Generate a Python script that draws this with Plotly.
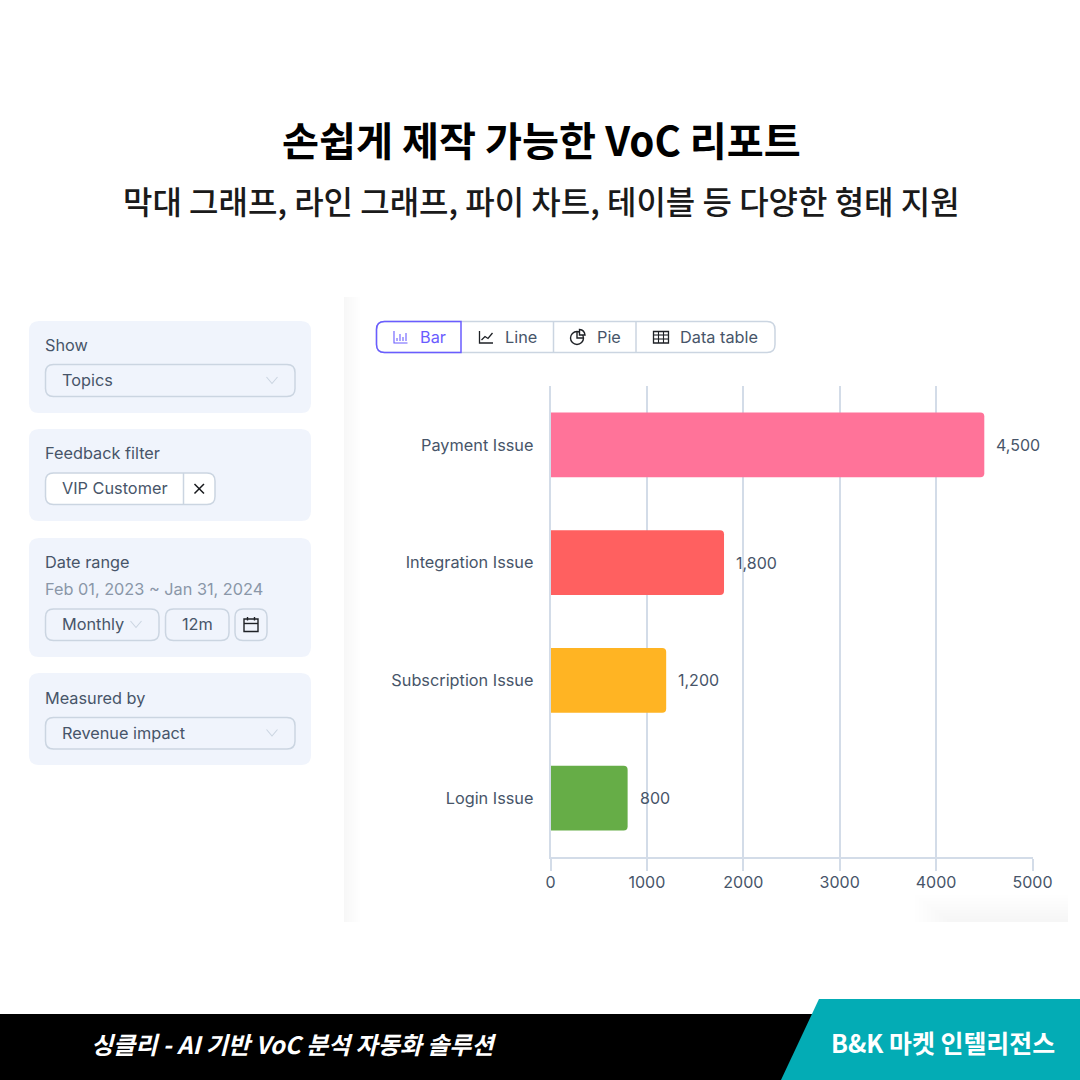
import plotly.graph_objects as go

# 차트 데이터
categorias = ["Payment Issue", "Integration Issue", "Subscription Issue", "Login Issue"]
valores = [4500, 1800, 1200, 800]
rotulos = ["4,500", "1,800", "1,200", "800"]
cores = ["#ff7399", "#ff6060", "#ffb423", "#66ad47"]
ticks_x = [0, 1000, 2000, 3000, 4000, 5000]

W = 1080
H = 1080
CJK = "Noto Sans CJK KR"
UI = "Inter"
TAM = 16.3
TEXTO = "#475569"
BORDA = "#cbd5e1"
PAINEL = "#f0f4fc"
GRADE = "#d3dce8"
ROXO = "#6a5cff"
ESCURO = "#1e2126"

shapes = []
annotations = []


def fx(x):
    return x / W


def fy(y):
    return 1 - y / H


def pt(x, y):
    return f"{fx(x):.5f},{fy(y):.5f}"


def retangulo(x0, y0, x1, y1, fill="rgba(0,0,0,0)", line=None, width=0):
    shapes.append(dict(type="rect", xref="paper", yref="paper", layer="below",
                       x0=fx(x0), x1=fx(x1), y0=fy(y0), y1=fy(y1),
                       fillcolor=fill, line=dict(color=line or "rgba(0,0,0,0)", width=width)))


def caminho(path, line=None, width=0, fill="rgba(0,0,0,0)"):
    shapes.append(dict(type="path", xref="paper", yref="paper", layer="below", path=path,
                       fillcolor=fill, line=dict(color=line or "rgba(0,0,0,0)", width=width)))


def arredondado(x0, y0, x1, y1, r=8, fill="rgba(0,0,0,0)", line=None, width=0):
    path = (f"M{pt(x0 + r, y0)} L{pt(x1 - r, y0)} Q{pt(x1, y0)} {pt(x1, y0 + r)} "
            f"L{pt(x1, y1 - r)} Q{pt(x1, y1)} {pt(x1 - r, y1)} "
            f"L{pt(x0 + r, y1)} Q{pt(x0, y1)} {pt(x0, y1 - r)} "
            f"L{pt(x0, y0 + r)} Q{pt(x0, y0)} {pt(x0 + r, y0)} Z")
    caminho(path, line, width, fill)


def segmentos(pontos, cor, width=1.4):
    path = "M" + " L".join(pt(x, y) for x, y in pontos)
    caminho(path, cor, width)


def texto(x, y, s, size=TAM, cor=TEXTO, anchor="left", family=UI, weight=400):
    # a anotacao tem uma folga interna de ~1.5px
    if anchor == "left":
        x = x - 1.5
    annotations.append(dict(x=fx(x), y=fy(y), xref="paper", yref="paper", text=s,
                            showarrow=False, xanchor=anchor, yanchor="middle",
                            borderpad=0, align=anchor,
                            font=dict(size=size, color=cor, family=family, weight=weight)))


def seta(x, y, cor=BORDA):
    segmentos([(x - 5.5, y - 3.5), (x, y + 3), (x + 5.5, y - 3.5)], cor, 1.1)


# titulo
texto(541.5, 138, "손쉽게 제작 가능한 VoC 리포트", 40.2, "#000000", "center", CJK, 700)
texto(541, 200, "막대 그래프, 라인 그래프, 파이 차트, 테이블 등 다양한 형태 지원", 32, "#1a1a1a", "center", CJK, 500)

# sombra do cartao do grafico
for i in range(16):
    retangulo(344 + i, 297, 345 + i, 922, fill=f"rgba(120,120,120,{0.06 * (1 - i / 16):.3f})")
for i in range(10):
    retangulo(915 + i * 4, 895 + i * 3, 1068, 922, fill="rgba(120,120,120,0.006)")

# paineis da esquerda
for y0, y1 in [(321, 413), (429, 521), (538, 657), (673, 765)]:
    arredondado(29, y0, 311, y1, 10, fill=PAINEL)

texto(45.5, 345, "Show")
arredondado(45.5, 364.5, 295, 396.5, 8, line=BORDA, width=1.5)
texto(62, 380.5, "Topics")
seta(272, 380.5)

texto(45.5, 453, "Feedback filter")
arredondado(45.5, 473, 215, 504.5, 8, fill="#ffffff", line=BORDA, width=1.5)
segmentos([(183.5, 473), (183.5, 504.5)], BORDA, 1.5)
texto(62, 488, "VIP Customer")
segmentos([(194.5, 484), (204, 493.5)], "#17191c", 1.5)
segmentos([(204, 484), (194.5, 493.5)], "#17191c", 1.5)

texto(45.5, 562, "Date range")
texto(45.5, 589, "Feb 01, 2023 ~ Jan 31, 2024", cor="#8a97a8")
arredondado(45.5, 609, 159, 640.5, 8, line=BORDA, width=1.5)
texto(62, 624, "Monthly")
seta(136, 624.5)
arredondado(165.5, 609, 229, 640.5, 8, line=BORDA, width=1.5)
texto(197, 624, "12m", anchor="center")
arredondado(235, 609, 267, 640.5, 8, line=BORDA, width=1.5)
retangulo(244, 619, 258, 631.5, line=ESCURO, width=1.4)
segmentos([(244, 623.5), (258, 623.5)], ESCURO, 1.4)
segmentos([(247.5, 617), (247.5, 620.5)], ESCURO, 1.4)
segmentos([(254.5, 617), (254.5, 620.5)], ESCURO, 1.4)

texto(45.5, 698, "Measured by")
arredondado(45.5, 717.5, 295, 749, 8, line=BORDA, width=1.5)
texto(62, 733, "Revenue impact")
seta(272, 733)

# abas
arredondado(376.5, 321.5, 775, 352.5, 8, line=BORDA, width=1.5)
segmentos([(553.5, 321.5), (553.5, 352.5)], BORDA, 1.5)
segmentos([(636, 321.5), (636, 352.5)], BORDA, 1.5)
caminho(f"M{pt(461, 321.5)} L{pt(384.5, 321.5)} Q{pt(376.5, 321.5)} {pt(376.5, 329.5)} "
        f"L{pt(376.5, 344.5)} Q{pt(376.5, 352.5)} {pt(384.5, 352.5)} L{pt(461, 352.5)} Z", ROXO, 1.5)
texto(420, 337, "Bar", cor=ROXO)
texto(505.5, 337, "Line")
texto(597, 337, "Pie")
texto(680.5, 337, "Data table")

# icone barras
segmentos([(394, 331), (394, 343), (407.5, 343)], ROXO, 1.1)
for xb, yb in [(397, 338), (400, 334), (403, 337), (406, 333)]:
    segmentos([(xb, yb), (xb, 341)], ROXO, 1.1)
# icone linha
segmentos([(479.5, 331), (479.5, 343), (493, 343)], ESCURO, 1.3)
segmentos([(481.5, 340), (485, 336.5), (488, 338.5), (492.5, 333)], ESCURO, 1.3)
# icone pizza
shapes.append(dict(type="circle", xref="paper", yref="paper", layer="below",
                   x0=fx(570.5), x1=fx(583.5), y0=fy(331.5), y1=fy(344.5),
                   line=dict(color=ESCURO, width=1.4), fillcolor="rgba(0,0,0,0)"))
caminho(f"M{pt(577, 331.5)} L{pt(577, 338)} L{pt(583.5, 338)}", ESCURO, 1.4)
caminho(f"M{pt(579.5, 329.5)} Q{pt(584.5, 330)} {pt(585, 335)} L{pt(579.5, 335)} Z", ESCURO, 1.4, "#ffffff")
# icone tabela
retangulo(653.5, 331.5, 668.5, 343, line=ESCURO, width=1.3)
segmentos([(653.5, 335), (668.5, 335)], ESCURO, 1.1)
segmentos([(653.5, 339), (668.5, 339)], ESCURO, 1.1)
segmentos([(658.5, 331.5), (658.5, 343)], ESCURO, 1.1)
segmentos([(663.5, 331.5), (663.5, 343)], ESCURO, 1.1)

# rodape
retangulo(0, 1014, 830, 1080, fill="#000000")
caminho(f"M{pt(819, 999)} L{pt(1080, 999)} L{pt(1080, 1080)} L{pt(781, 1080)} Z", fill="#03acb5")
annotations.append(dict(x=fx(89), y=fy(1043), xref="paper", yref="paper", showarrow=False,
                        xanchor="left", yanchor="middle", text="<i>싱클리 - AI 기반 VoC 분석 자동화 솔루션</i>",
                        font=dict(size=24, color="#ffffff", family=CJK, weight=700)))
texto(831.5, 1042, "B&K 마켓 인텔리전스", 24.9, "#ffffff", "left", CJK, 700)

# rotulos das barras
for cat, val, rot in zip(categorias, valores, rotulos):
    annotations.append(dict(x=val, y=cat, xref="x", yref="y", text=rot, showarrow=False,
                            xanchor="left", xshift=10,
                            font=dict(family=UI, size=16, color=TEXTO)))

fig = go.Figure(go.Bar(
    x=valores,
    y=categorias,
    orientation="h",
    marker=dict(color=cores, line=dict(width=0), cornerradius=4),
    hoverinfo="skip",
))

fig.update_xaxes(
    domain=[fx(550.5), fx(1032.5)],
    range=[0, 5000],
    tickmode="array",
    tickvals=ticks_x,
    ticktext=[str(v) for v in ticks_x],
    showgrid=True,
    gridcolor=GRADE,
    gridwidth=1.5,
    zeroline=False,
    showline=True,
    linecolor=GRADE,
    linewidth=1.5,
    ticks="outside",
    ticklen=12,
    tickwidth=1.5,
    tickcolor=GRADE,
    ticklabelstandoff=-2,
    tickfont=dict(family=UI, size=16, color=TEXTO),
)
fig.update_yaxes(
    domain=[fy(857), fy(386)],
    autorange="reversed",
    showgrid=False,
    zeroline=False,
    showline=True,
    linecolor=GRADE,
    linewidth=1.5,
    ticks="outside",
    ticklen=12,
    tickcolor="rgba(0,0,0,0)",
    tickfont=dict(family=UI, size=TAM, color=TEXTO),
)

fig.update_layout(
    width=W,
    height=H,
    margin=dict(l=0, r=0, t=0, b=0, autoexpand=False),
    paper_bgcolor="#ffffff",
    plot_bgcolor="#ffffff",
    bargap=0.45,
    showlegend=False,
    shapes=shapes,
    annotations=annotations,
)

fig.write_html("out.html", config={"displayModeBar": False},
               post_script="document.body.style.margin='0';")
